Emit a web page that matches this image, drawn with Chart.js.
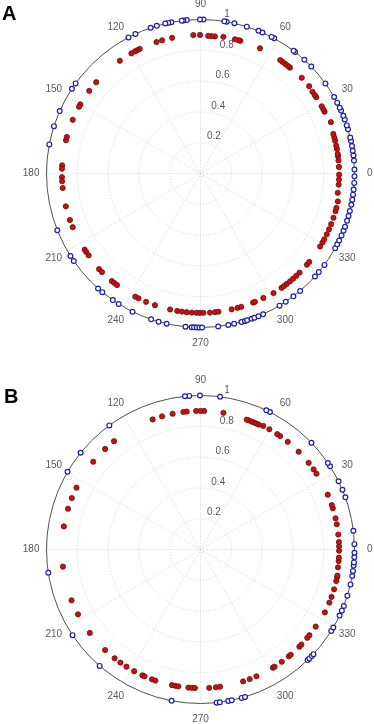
<!DOCTYPE html>
<html>
<head>
<meta charset="utf-8">
<script src="https://cdn.jsdelivr.net/npm/chart.js@4.4.1/dist/chart.umd.min.js"></script>
<style>
  body { margin: 0; background: #fff; }
  canvas { display: block; }
</style>
</head>
<body>
<canvas id="polarA" width="374" height="362"></canvas>
<canvas id="polarB" width="374" height="362"></canvas>
<script>
// polar scatter, two panels: red = inner ring, blue = on unit circle
const angleTicks = [0, 30, 60, 90, 120, 150, 180, 210, 240, 270, 300, 330];
const radialTicks = [0.2, 0.4, 0.6, 0.8, 1];

// [angle in degrees, radius]
const aRed = [
  [2.7,.90],[5.4,.90],[7.2,.90],[8.1,.90],[10.2,.90],[11.6,.90],[13.7,.90],[15.1,.90],[16.6,.90],[21.5,.91],
  [26.5,.90],[27.6,.90],[29.0,.90],[33.4,.90],[34.5,.90],[36.1,.90],[38.8,.905],[43.4,.905],[49.8,.90],[50.9,.90],
  [52.2,.90],[53.6,.90],[54.9,.90],[64.6,.90],[73.3,.90],[74.1,.90],[75.6,.90],[80.5,.90],[84.0,.895],[85.4,.895],
  [86.8,.895],[90.2,.90],[93.0,.90],[101.8,.90],[106.1,.90],[108.5,.90],[116.0,.90],[117.2,.90],[118.2,.90],[119.9,.90],
  [125.6,.90],[138.8,.90],[143.4,.90],[150.1,.90],[151.2,.90],[157.2,.90],[164.7,.90],[166.1,.90],[176.6,.90],[178.0,.90],
  [181.5,.90],[183.2,.90],[186.0,.90],[193.7,.90],[199.6,.90],[202.8,.90],[213.3,.90],[214.5,.90],[216.2,.90],[223.3,.905],
  [225.0,.905],[230.5,.905],[231.7,.905],[233.2,.905],[242.1,.905],[243.6,.905],[247.0,.905],[250.9,.905],[257.4,.905],[260.4,.905],
  [262.3,.905],[264.3,.905],[266.4,.905],[268.4,.905],[269.8,.905],[271.2,.905],[273.9,.905],[276.0,.905],[277.4,.905],[282.9,.905],
  [285.4,.905],[287.0,.905],[292.2,.905],[293.0,.905],[296.8,.905],[301.4,.91],[305.3,.91],[306.5,.91],[308.0,.91],[309.7,.91],
  [311.4,.91],[313.1,.91],[315.0,.91],[319.4,.91],[320.9,.91],[328.6,.91],[330.5,.91],[332.0,.91],[334.3,.91],[336.5,.91],
  [338.8,.91],[341.6,.91],[344.4,.91],[345.8,.91],[348.5,.91],[352.0,.90],[355.4,.90],[357.5,.90],[359.5,.90]
];
const aBlue = [
  [1.5,1],[4.8,1],[6.7,1],[8.5,1],[10.3,1],[12.2,1],[13.5,1],[16.7,1],[18.2,1],[20.5,1],
  [22.0,1],[24.1,1],[25.3,1],[27.4,1],[29.8,1],[35.8,1],[44.0,1],[47.6,1],[52.1,1],[52.8,1],
  [61.4,1],[62.5,1],[66.3,1],[67.9,1],[72.5,1],[77.3,1],[80.2,1],[81.1,1],[88.9,1],[90.2,1],
  [95.1,1],[96.4,1],[97.0,1],[100.9,1],[102.1,1],[103.2,1],[106.5,1],[108.9,1],[115.0,1],[117.9,1],
  [144.2,1],[146.6,1],[156.1,1],[162.1,1],[169.1,1],[201.6,1],[212.4,1],[214.6,1],[228.3,1],[230.4,1],
  [235.3,1],[237.9,1],[243.8,1],[251.3,1],[254.2,1],[257.3,1],[264.4,1],[266.7,1],[267.6,1],[268.6,1],
  [269.6,1],[270.6,1],[276.6,1],[280.4,1],[282.6,1],[285.4,1],[286.8,1],[287.6,1],[289.4,1],[290.5,1],
  [292.1,1],[294.0,1],[300.9,1],[303.6,1],[307.1,1],[310.3,1],[318.0,1],[320.2,1],[323.6,1],[331.0,1],
  [332.6,1],[334.2,1],[336.3,1],[338.2,1],[339.8,1],[342.1,1],[344.0,1],[345.9,1],[348.3,1],[350.2,1],
  [352.1,1],[354.0,1],[356.5,1],[359.0,1]
];

const bRed = [
  [1.3,.90],[3.1,.90],[6.2,.90],[10.5,.90],[13.0,.90],[17.3,.90],[18.7,.90],[23.3,.90],[33.2,.90],[35.3,.90],
  [38.7,.90],[44.9,.90],[51.0,.90],[54.9,.90],[56.4,.90],[60.2,.90],[63.1,.90],[65.0,.895],[66.0,.895],[67.1,.895],
  [68.2,.895],[69.4,.895],[70.4,.895],[80.5,.90],[88.5,.90],[90.0,.90],[91.8,.90],[95.7,.90],[97.1,.90],[101.6,.90],
  [106.1,.90],[110.2,.90],[128.6,.90],[133.5,.90],[140.7,.90],[153.5,.90],[158.2,.90],[162.9,.90],[170.4,.90],[187.1,.90],
  [201.5,.90],[207.9,.90],[217.0,.90],[226.5,.90],[231.7,.90],[234.7,.90],[237.7,.90],[241.4,.90],[245.2,.90],[246.2,.90],
  [249.5,.90],[251.0,.90],[258.1,.90],[259.5,.90],[260.8,.90],[265.0,.90],[266.4,.90],[267.7,.90],[273.6,.90],[276.4,.90],
  [278.1,.90],[287.9,.90],[290.8,.90],[293.8,.90],[301.5,.90],[302.3,.90],[305.9,.90],[309.6,.90],[310.6,.90],[315.5,.90],
  [316.7,.90],[320.4,.90],[321.8,.90],[326.2,.90],[333.2,.905],[337.6,.905],[340.1,.905],[343.4,.905],[346.9,.905],[348.5,.905],
  [349.2,.905],[352.6,.90],[355.2,.90],[356.6,.90],[359.5,.90]
];
const bBlue = [
  [2.0,1],[7.0,1],[19.8,1],[22.8,1],[26.3,1],[32.7,1],[34.2,1],[43.9,1],[63.2,1],[64.7,1],
  [82.7,1],[90.2,1],[94.2,1],[95.8,1],[126.3,1],[141.1,1],[149.7,1],[188.7,1],[213.8,1],[229.1,1],
  [259.2,1],[276.0,1],[277.2,1],[280.4,1],[281.7,1],[285.5,1],[286.8,1],[314.1,1],[315.0,1],[316.3,1],
  [317.2,1],[328.1,1],[329.6,1],[334.6,1],[336.6,1],[338.5,1],[342.5,1],[346.9,1],[350.1,1],[352.0,1],
  [354.0,1],[355.2,1],[357.1,1],[358.8,1]
];

function toXY(pts) {
  return pts.map(([t, r]) => ({
    x: r * Math.cos(t * Math.PI / 180),
    y: r * Math.sin(t * Math.PI / 180)
  }));
}

// matlab-style polar grid drawn off the x/y scales
const polarGrid = {
  id: "polarGrid",
  beforeDatasetsDraw(chart, args, opts) {
    const { ctx } = chart;
    const xs = chart.scales.x, ys = chart.scales.y;
    const cx = xs.getPixelForValue(0), cy = ys.getPixelForValue(0);
    const R = xs.getPixelForValue(1) - cx;
    ctx.save();

    ctx.strokeStyle = "#d2d2d2";
    ctx.lineWidth = 1;
    ctx.setLineDash([1, 2]);
    radialTicks.slice(0, -1).forEach(r => {
      ctx.beginPath();
      ctx.arc(cx, cy, r * R, 0, Math.PI * 2);
      ctx.stroke();
    });
    angleTicks.forEach(a => {
      const t = a * Math.PI / 180;
      ctx.beginPath();
      ctx.moveTo(cx, cy);
      ctx.lineTo(cx + R * Math.cos(t), cy - R * Math.sin(t));
      ctx.stroke();
    });

    ctx.setLineDash([]);
    ctx.strokeStyle = "#505050";
    ctx.beginPath();
    ctx.arc(cx, cy, R, 0, Math.PI * 2);
    ctx.stroke();

    ctx.fillStyle = "#5a5a5a";
    ctx.font = "10px 'Liberation Sans', Arial, sans-serif";
    ctx.textAlign = "center";
    ctx.textBaseline = "middle";
    angleTicks.forEach(a => {
      const t = a * Math.PI / 180;
      ctx.fillText(String(a), cx + 1.1 * R * Math.cos(t), cy - 1.1 * R * Math.sin(t));
    });

    const t82 = 82 * Math.PI / 180;
    ctx.textAlign = "left";
    ctx.textBaseline = "bottom";
    radialTicks.forEach(r => {
      const rr = (r + 0.01) * R;
      ctx.fillText(String(r), cx + rr * Math.cos(t82) + 2, cy - rr * Math.sin(t82));
    });

    ctx.fillStyle = "#000";
    ctx.font = "bold 20px 'Liberation Sans', Arial, sans-serif";
    ctx.textBaseline = "alphabetic";
    ctx.fillText(opts.letter, opts.lx, opts.ly);
    ctx.restore();
  }
};

function makePolar(id, red, blue, letter, lx, ly, padding) {
  new Chart(document.getElementById(id), {
    type: "scatter",
    data: {
      datasets: [
        {
          label: "inner",
          data: toXY(red),
          pointRadius: 2.6,
          pointBackgroundColor: "#c81212",
          pointBorderColor: "#6e0a0a",
          pointBorderWidth: 0.8,
          clip: false
        },
        {
          label: "outer",
          data: toXY(blue),
          pointRadius: 2.4,
          pointBackgroundColor: "#ffffff",
          pointBorderColor: "#1e1ea6",
          pointBorderWidth: 1.2,
          clip: false
        }
      ]
    },
    options: {
      responsive: false,
      animation: false,
      devicePixelRatio: 1,
      layout: { padding },
      plugins: {
        legend: { display: false },
        tooltip: { enabled: false },
        polarGrid: { letter, lx, ly }
      },
      scales: {
        x: { type: "linear", min: -1, max: 1, display: false },
        y: { type: "linear", min: -1, max: 1, display: false }
      }
    },
    plugins: [polarGrid]
  });
}

makePolar("polarA", aRed, aBlue, "A", 2, 20, { left: 46.5, right: 19.5, top: 19.5, bottom: 34.5 });
makePolar("polarB", bRed, bBlue, "B", 4, 41, { left: 46.5, right: 19.5, top: 33.5, bottom: 20.5 });
</script>
</body>
</html>
